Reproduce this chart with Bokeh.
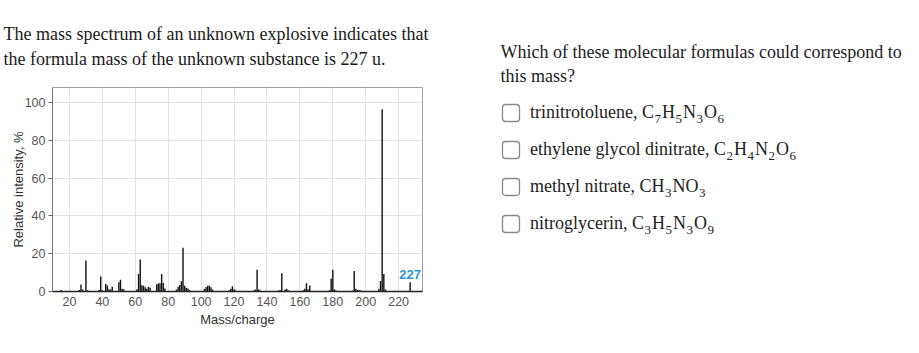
from bokeh.plotting import figure
from bokeh.layouts import row
from bokeh.models import Range1d, FixedTicker, ColumnDataSource, Title
from bokeh.core.properties import value
from bokeh.embed import file_html
from bokeh.resources import INLINE

# ---------------- data ----------------
mz = [15, 26, 27, 28, 30, 31, 38, 39, 40, 42, 43, 44, 45, 46, 50, 51, 52, 53,
      61, 62, 63, 64, 65, 66, 67, 68, 69, 73, 74, 75, 76, 77, 78,
      85, 86, 87, 88, 89, 90, 91, 92, 93,
      102, 103, 104, 105, 106, 107, 117, 118, 119, 120, 121,
      132, 133, 134, 135, 136, 147, 148, 149, 151, 152, 153,
      162, 163, 164, 165, 166, 178, 179, 180, 181, 182,
      192, 193, 194, 195, 196, 197, 208, 209, 210, 211, 212, 227]
intensity = [0.8, 0.8, 3.7, 1.0, 16.4, 0.6, 0.8, 7.9, 0.6, 4.0, 3.2, 1.2, 1.0, 2.5, 4.9, 6.2, 1.4, 1.2,
             1.2, 9.3, 16.9, 3.3, 3.0, 2.2, 1.4, 2.4, 2.0, 3.8, 4.2, 4.4, 9.3, 4.5, 1.6,
             1.0, 2.5, 3.5, 5.4, 23.1, 3.0, 2.0, 1.6, 0.8,
             1.5, 2.4, 3.0, 3.0, 2.2, 1.0, 0.6, 1.4, 2.8, 1.2, 0.5,
             0.5, 1.0, 11.5, 1.0, 0.5, 0.5, 0.8, 9.7, 1.0, 1.4, 0.6,
             0.6, 1.5, 4.4, 1.2, 3.2, 0.6, 6.7, 11.5, 1.2, 0.5,
             0.5, 10.8, 1.4, 0.8, 0.8, 0.5, 1.5, 5.5, 96.5, 9.3, 1.0, 4.9]
x_ticks = [20, 40, 60, 80, 100, 120, 140, 160, 180, 200, 220]
y_ticks = [0, 20, 40, 60, 80, 100]
labeled_mz = [227]
labeled_text = ["227"]

title_lines = ["The mass spectrum of an unknown explosive indicates that",
               "the formula mass of the unknown substance is 227 u."]
question_lines = ["Which of these molecular formulas could correspond to",
                  "this mass?"]
# each option: list of (text, is_subscript)
options = [
    [("trinitrotoluene, C", False), ("7", True), ("H", False), ("5", True),
     ("N", False), ("3", True), ("O", False), ("6", True)],
    [("ethylene glycol dinitrate, C", False), ("2", True), ("H", False), ("4", True),
     ("N", False), ("2", True), ("O", False), ("6", True)],
    [("methyl nitrate, CH", False), ("3", True), ("NO", False), ("3", True)],
    [("nitroglycerin, C", False), ("3", True), ("H", False), ("5", True),
     ("N", False), ("3", True), ("O", False), ("9", True)],
]

SERIF = "Liberation Serif"
SANS = "Liberation Sans"

# Times-compatible advance widths (per 1000 em) for laying out text pieces
TW = {' ': 250, ',': 250, '.': 250, '?': 444}
TW.update({d: 500 for d in "0123456789"})
TW.update(dict(zip("ABCDEFGHIJKLMNOPQRSTUVWXYZ",
                   [722, 667, 667, 722, 611, 556, 722, 722, 333, 389, 722, 611, 889,
                    722, 722, 556, 722, 667, 556, 611, 722, 722, 944, 722, 722, 611])))
TW.update(dict(zip("abcdefghijklmnopqrstuvwxyz",
                   [444, 500, 444, 500, 444, 333, 500, 500, 278, 278, 500, 278, 778,
                    500, 500, 500, 500, 333, 389, 278, 500, 500, 722, 500, 500, 444])))


def twidth(s, size):
    return sum(TW.get(c, 500) for c in s) * size / 1000.0


FRAME_TOP, FRAME_BOTTOM_BORDER = 87, 62

# ---------------- chart (with the two-line heading above it) ----------------
p = figure(width=440, height=353, x_range=Range1d(9.7, 234.5), y_range=Range1d(0, 108),
           output_backend="svg", toolbar_location=None,
           min_border_left=52, min_border_right=18,
           min_border_top=FRAME_TOP, min_border_bottom=FRAME_BOTTOM_BORDER)
p.outline_line_color = "#a0a0a0"
p.add_layout(Title(text="\n".join(title_lines), align="left", offset=-49, standoff=36,
                   text_font=SERIF, text_font_size="18px", text_font_style="normal",
                   text_line_height=1.256, text_color="#1a1a1a"), "above")

p.xgrid.ticker = FixedTicker(ticks=x_ticks)
p.ygrid.ticker = FixedTicker(ticks=y_ticks)
p.grid.grid_line_color = "#e2e2e2"
p.grid.grid_line_width = 1

src = ColumnDataSource(dict(mz=mz, intensity=intensity))
p.vbar(x="mz", top="intensity", bottom=0, width=0.85, source=src,
       fill_color="#111111", line_color=None)

lab_y = [intensity[mz.index(m)] + 4.2 for m in labeled_mz]
p.text(x=labeled_mz, y=lab_y, text=labeled_text, text_font=value(SANS),
       text_font_size="13px", text_font_style="bold", text_color="#2a97d4",
       text_align="center", text_baseline="alphabetic")

p.xaxis.ticker = FixedTicker(ticks=x_ticks)
p.yaxis.ticker = FixedTicker(ticks=y_ticks)
p.xaxis.axis_label = "Mass/charge"
p.yaxis.axis_label = "Relative intensity, %"
for ax in (p.xaxis[0], p.yaxis[0]):
    ax.major_label_text_font = SANS
    ax.major_label_text_font_size = "12.5px"
    ax.major_label_text_color = "#555555"
    ax.axis_label_text_font = SANS
    ax.axis_label_text_font_size = "13px"
    ax.axis_label_text_font_style = "normal"
    ax.axis_label_text_color = "#333333"
    ax.minor_tick_line_color = None
    ax.major_tick_in = 0
p.xaxis.major_tick_out = 0
p.xaxis.major_label_standoff = 5
p.xaxis.axis_label_standoff = 3
p.xaxis.axis_line_color = "#222222"
p.xaxis.axis_line_width = 1.5
p.yaxis.major_tick_out = 4
p.yaxis.major_tick_line_color = "#666666"
p.yaxis.major_label_standoff = 3
p.yaxis.axis_label_standoff = -4
p.yaxis.axis_line_color = "#777777"

# ---------------- right: question & options ----------------
# same top/bottom borders as the chart so the row keeps page coordinates
fr = figure(width=479, height=353, x_range=Range1d(440, 919),
            y_range=Range1d(353 - FRAME_BOTTOM_BORDER, FRAME_TOP),
            output_backend="svg", toolbar_location=None,
            min_border_left=0, min_border_right=0,
            min_border_top=FRAME_TOP, min_border_bottom=FRAME_BOTTOM_BORDER,
            x_axis_type=None, y_axis_type=None, outline_line_color=None)
fr.grid.visible = False
fr.add_layout(Title(text="\n".join(question_lines), align="left", offset=60, standoff=2,
                    text_font=SERIF, text_font_size="18px", text_font_style="normal",
                    text_line_height=1.206, text_color="#222222"), "above")

box_top = [104, 141, 178, 215]
base_y = [119, 156, 193, 230]
fr.quad(left=[502] * 4, right=[519] * 4, top=box_top, bottom=[t + 17 for t in box_top],
        fill_color="white", line_color="#8a8a8a", line_width=1.3, border_radius=3)

MAIN, SUB = 18, 13
SHIFT = 0.42  # compensation of the renderer's baseline placement, in em
xs, ys, ts = [], [], []
sxs, sys_, sts = [], [], []
for opt, by in zip(options, base_y):
    x = 529.5
    for txt, is_sub in opt:
        if is_sub:
            sxs.append(x); sys_.append(by + 5 - SHIFT * SUB); sts.append(txt)
            x += twidth(txt, SUB) + 1.0
        else:
            xs.append(x); ys.append(by - SHIFT * MAIN); ts.append(txt)
            x += twidth(txt, MAIN) + 0.5
fr.text(x=xs, y=ys, text=ts, text_font=value(SERIF), text_font_size=f"{MAIN}px",
        text_baseline="alphabetic", text_align="left", text_color="#222222")
fr.text(x=sxs, y=sys_, text=sts, text_font=value(SERIF), text_font_size=f"{SUB}px",
        text_baseline="alphabetic", text_align="left", text_color="#222222")

layout = row(p, fr, spacing=0)

open("out.html", "w").write(file_html(layout, INLINE))
